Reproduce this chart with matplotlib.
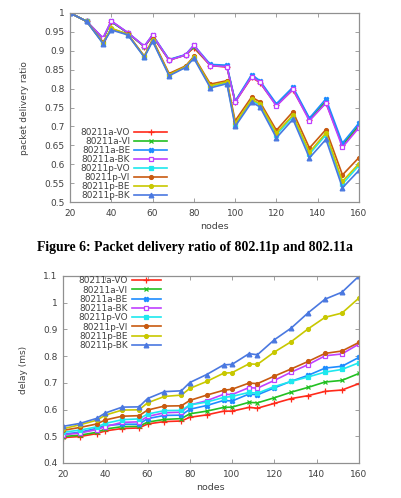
import matplotlib
matplotlib.use("Agg")
import matplotlib.pyplot as plt

nodes = [20, 28, 36, 40, 48, 56, 60, 68, 76, 80, 88, 96, 100, 108, 112, 120, 128, 136, 144, 152, 160]

series_names = ["80211a-VO", "80211a-VI", "80211a-BE", "80211a-BK",
                "80211p-VO", "80211p-VI", "80211p-BE", "80211p-BK"]

# Packet delivery ratio
pdr_a_vo = [1.0, 0.978, 0.932, 0.977, 0.947, 0.911, 0.938, 0.875, 0.889, 0.908, 0.861, 0.857, 0.765, 0.830, 0.816, 0.756, 0.797, 0.718, 0.763, 0.650, 0.700]
pdr_a_vi = [1.0, 0.978, 0.932, 0.977, 0.947, 0.911, 0.940, 0.876, 0.889, 0.911, 0.862, 0.859, 0.766, 0.833, 0.818, 0.757, 0.800, 0.720, 0.767, 0.652, 0.704]
pdr_a_be = [1.0, 0.978, 0.933, 0.978, 0.948, 0.912, 0.942, 0.877, 0.890, 0.915, 0.864, 0.862, 0.767, 0.837, 0.821, 0.760, 0.804, 0.722, 0.773, 0.656, 0.709]
pdr_a_bk = [1.0, 0.978, 0.934, 0.979, 0.948, 0.912, 0.942, 0.875, 0.889, 0.914, 0.861, 0.858, 0.764, 0.832, 0.817, 0.754, 0.798, 0.715, 0.762, 0.645, 0.697]
pdr_p_vo = [1.0, 0.978, 0.920, 0.957, 0.943, 0.884, 0.927, 0.836, 0.857, 0.882, 0.806, 0.816, 0.705, 0.769, 0.757, 0.678, 0.726, 0.627, 0.678, 0.548, 0.597]
pdr_p_vi = [1.0, 0.978, 0.922, 0.958, 0.944, 0.886, 0.930, 0.840, 0.860, 0.885, 0.812, 0.821, 0.715, 0.778, 0.765, 0.690, 0.739, 0.643, 0.692, 0.572, 0.618]
pdr_p_be = [1.0, 0.978, 0.921, 0.960, 0.943, 0.885, 0.928, 0.837, 0.858, 0.883, 0.808, 0.818, 0.708, 0.772, 0.760, 0.683, 0.730, 0.632, 0.683, 0.555, 0.602]
pdr_p_bk = [1.0, 0.978, 0.919, 0.955, 0.942, 0.883, 0.925, 0.834, 0.856, 0.880, 0.802, 0.813, 0.700, 0.764, 0.752, 0.670, 0.719, 0.617, 0.666, 0.538, 0.584]

# Delay (ms)
dl_a_vo = [0.495, 0.499, 0.510, 0.520, 0.529, 0.531, 0.546, 0.555, 0.557, 0.571, 0.580, 0.594, 0.594, 0.608, 0.605, 0.623, 0.641, 0.652, 0.668, 0.673, 0.697]
dl_a_vi = [0.499, 0.504, 0.515, 0.527, 0.536, 0.537, 0.553, 0.563, 0.566, 0.584, 0.594, 0.608, 0.609, 0.627, 0.625, 0.644, 0.665, 0.683, 0.703, 0.709, 0.735]
dl_a_be = [0.508, 0.515, 0.530, 0.540, 0.545, 0.545, 0.566, 0.578, 0.579, 0.601, 0.615, 0.634, 0.632, 0.658, 0.655, 0.681, 0.706, 0.728, 0.755, 0.762, 0.795]
dl_a_bk = [0.505, 0.512, 0.525, 0.536, 0.552, 0.554, 0.574, 0.588, 0.590, 0.617, 0.633, 0.657, 0.656, 0.682, 0.680, 0.709, 0.740, 0.768, 0.801, 0.808, 0.845]
dl_p_vo = [0.515, 0.523, 0.535, 0.548, 0.562, 0.565, 0.583, 0.596, 0.597, 0.617, 0.628, 0.645, 0.649, 0.664, 0.661, 0.686, 0.705, 0.722, 0.740, 0.750, 0.775]
dl_p_vi = [0.522, 0.533, 0.546, 0.561, 0.575, 0.577, 0.598, 0.613, 0.614, 0.634, 0.654, 0.672, 0.676, 0.699, 0.697, 0.725, 0.752, 0.780, 0.810, 0.819, 0.851]
dl_p_be = [0.528, 0.543, 0.560, 0.579, 0.598, 0.599, 0.625, 0.649, 0.654, 0.679, 0.705, 0.736, 0.738, 0.771, 0.769, 0.815, 0.854, 0.902, 0.945, 0.961, 1.017]
dl_p_bk = [0.537, 0.548, 0.567, 0.587, 0.609, 0.610, 0.641, 0.667, 0.670, 0.701, 0.731, 0.767, 0.769, 0.809, 0.805, 0.861, 0.905, 0.962, 1.013, 1.039, 1.099]

pdr_series = [pdr_a_vo, pdr_a_vi, pdr_a_be, pdr_a_bk, pdr_p_vo, pdr_p_vi, pdr_p_be, pdr_p_bk]
delay_series = [dl_a_vo, dl_a_vi, dl_a_be, dl_a_bk, dl_p_vo, dl_p_vi, dl_p_be, dl_p_bk]

caption = "Figure 6: Packet delivery ratio of 802.11p and 802.11a"

colors = ["#ff2a1a", "#22c022", "#1e8cff", "#c040ff", "#1ee8ee", "#c85a10", "#c8c800", "#4a78e0"]
markers = ["+", "x", "X", "s", "s", "o", "o", "^"]
mfaces = ["#ff2a1a", "#22c022", "#1e8cff", "white", "#1ee8ee", "#c85a10", "#c8c800", "#4a78e0"]
msizes = [4, 3, 3.2, 3.2, 3.2, 2.8, 2.8, 3.4]

TXT = "#404040"
SPINE = "#909090"

plt.rcParams["font.family"] = "DejaVu Sans"
fig = plt.figure(figsize=(4.01, 4.98), dpi=100)


def style_axes(ax, yticks, yticklabels, ylim, ylabel):
    ax.set_xlim(20, 160)
    ax.set_ylim(*ylim)
    ax.set_xticks([20, 40, 60, 80, 100, 120, 140, 160])
    ax.set_xticklabels(["20", "40", "60", "80", "100", "120", "140", "160"])
    ax.set_yticks(yticks)
    ax.set_yticklabels(yticklabels)
    ax.tick_params(direction="in", top=True, right=True, length=3, width=0.6,
                   colors=SPINE, labelcolor=TXT, labelsize=6.5)
    ax.tick_params(axis="x", pad=5)
    ax.tick_params(axis="y", pad=4)
    for s in ax.spines.values():
        s.set_color(SPINE)
        s.set_linewidth(0.9)
    ax.set_xlabel("nodes", fontsize=6.8, color=TXT, labelpad=3)
    ax.set_ylabel(ylabel, fontsize=6.5, color=TXT, labelpad=11)


def draw(ax, data):
    for name, ys, c, m, mf, ms in zip(series_names, data, colors, markers, mfaces, msizes):
        ax.plot(nodes, ys, color=c, marker=m, markerfacecolor=mf, markeredgecolor=c,
                markersize=ms, markeredgewidth=0.9, linewidth=1.2, label=name)


ax1 = fig.add_axes([0.1746, 0.594, 0.7206, 0.380])
draw(ax1, pdr_series)
yt1 = [0.5, 0.55, 0.6, 0.65, 0.7, 0.75, 0.8, 0.85, 0.9, 0.95, 1.0]
style_axes(ax1, yt1, ["0.5", "0.55", "0.6", "0.65", "0.7", "0.75", "0.8", "0.85", "0.9", "0.95", "1"],
           (0.5, 1.0), "packet delivery ratio")
leg1 = ax1.legend(loc="lower right", bbox_to_anchor=(0.336, 0.012), frameon=False, markerfirst=False,
                  fontsize=6.4, handlelength=3.7, labelspacing=0.0, borderaxespad=0.0,
                  borderpad=0.0, handletextpad=0.45)
for t in leg1.get_texts():
    t.set_color(TXT)

fig.text(0.487, 0.504, caption, ha="center", va="center", fontsize=9.9,
         fontweight="bold", family="Liberation Serif", color="black")

ax2 = fig.add_axes([0.157, 0.0703, 0.738, 0.3757])
draw(ax2, delay_series)
yt2 = [0.4, 0.5, 0.6, 0.7, 0.8, 0.9, 1.0, 1.1]
style_axes(ax2, yt2, ["0.4", "0.5", "0.6", "0.7", "0.8", "0.9", "1", "1.1"],
           (0.4, 1.1), "delay (ms)")
leg2 = ax2.legend(loc="upper right", bbox_to_anchor=(0.331, 0.998), frameon=False, markerfirst=False,
                  fontsize=6.4, handlelength=3.3, labelspacing=0.03, borderaxespad=0.0,
                  borderpad=0.0, handletextpad=0.45)
for t in leg2.get_texts():
    t.set_color(TXT)

fig.savefig("out.png", dpi=100)
